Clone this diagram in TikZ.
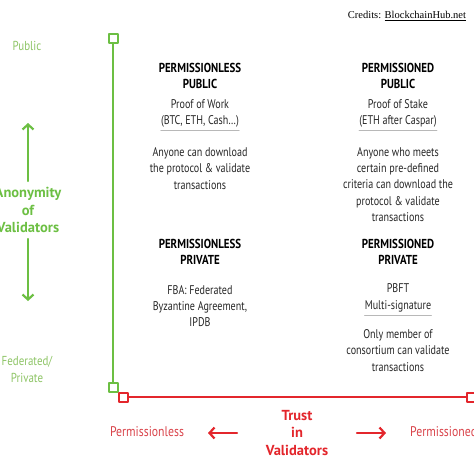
\documentclass[tikz,border=0pt]{standalone}
\usepackage{fontspec}
\setmainfont{PT Sans}[FakeStretch=0.8]
\newfontfamily\headfont{PT Sans}[FakeStretch=0.84]
\newfontfamily\titlefont{PT Sans}
\newfontfamily\credfont{Liberation Serif}
\usetikzlibrary{arrows.meta}
\definecolor{axgreen}{HTML}{6CBF43}
\definecolor{labgreen}{HTML}{8DC465}
\definecolor{axred}{HTML}{E3262C}
\definecolor{labred}{HTML}{D9434A}
\definecolor{ulgray}{HTML}{B8B8B8}
\tikzset{
    head/.style={
        font=\headfont\bfseries\fontsize{13}{16.3}\selectfont, align=center, inner sep=0pt
    },
    body/.style={
        font=\fontsize{12.6}{16.3}\selectfont, align=center, inner sep=0pt, text=black!85
    },
    sidelab/.style={
        font=\headfont\fontsize{13}{17}\selectfont, align=center, inner sep=0pt
    },
    axtitle/.style={
        font=\titlefont\bfseries\fontsize{14.5}{17.5}\selectfont, align=center, inner sep=0pt
    },
    marker/.style={
        fill=white, line width=2pt, minimum size=9pt, inner sep=0pt
    },
    ulline/.style={
        ulgray, line width=0.9pt
    }
}

\begin{document}
\begin{tikzpicture}[x=1pt,y=-1pt, line cap=round, line join=round]
\useasboundingbox (0,0) rectangle (474,474);

\def\xL{200}
\def\xR{398}

% credits
\node[font=\credfont\fontsize{10.5}{12}\selectfont, inner sep=0pt] (credits)
  at (407,16) {Credits: \underline{BlockchainHub.net}};

% axes
\draw[axgreen, line width=2.4pt] (113,38) -- (113,387);
\draw[axred, line width=2.4pt] (123,397) -- (471,397);
\node[marker, draw=axgreen] (gtop) at (113,38) {};
\node[marker, draw=axgreen] (gbot) at (113,387) {};
\node[marker, draw=axred] (rleft) at (123,397) {};
\node[marker, draw=axred] (rright) at (471,397) {};

% vertical axis: anonymity
\node[sidelab, labgreen] (public) at (27,46) {Public};
\node[sidelab, labgreen] (fedpriv) at (27,369) {Federated/\\Private};
\node[axtitle, axgreen, inner ysep=6pt] (anon) at (28,210) {Anonymity\\of\\Validators};
\coordinate (gup) at (28,123);
\coordinate (gdown) at (28,301);
\draw[axgreen, line width=2.2pt, -{Straight Barb[length=5pt,width=11pt]}] (anon.north) -- (gup);
\draw[axgreen, line width=2.2pt, -{Straight Barb[length=5pt,width=11pt]}] (anon.south) -- (gdown);

% horizontal axis: trust
\node[font=\headfont\fontsize{14}{17}\selectfont, labred, inner sep=0pt] (pless) at (147,432) {Permissionless};
\node[font=\headfont\fontsize{14}{17}\selectfont, labred, inner sep=0pt, anchor=west] (pned) at (410,432) {Permissioned};
\node[axtitle, axred] (trust) at (297,433) {Trust\\in\\Validators};
\coordinate (lstart) at (237,433);
\coordinate (lend) at (208,433);
\coordinate (rstart) at (357,433);
\coordinate (rend) at (386,433);
\draw[axred, line width=2.2pt, -{Straight Barb[length=5pt,width=11pt]}] (lstart) -- (lend);
\draw[axred, line width=2.2pt, -{Straight Barb[length=5pt,width=11pt]}] (rstart) -- (rend);

% permissionless / public
\node[head] (plpubh) at (\xL,76) {PERMISSIONLESS\\PUBLIC};
\node[body] (pow) at (\xL,113.5) {Proof of Work\\(BTC, ETH, Cash\dots)};
\node[body] (plpubt) at (\xL,168.5) {Anyone can download\\the protocol \& validate\\transactions};
\draw[ulline] ([yshift=-3pt]pow.south west) -- ([yshift=-3pt]pow.south east);

% permissioned / public
\node[head] (pdpubh) at (\xR,76) {PERMISSIONED\\PUBLIC};
\node[body] (pos) at (\xR,113.5) {Proof of Stake\\(ETH after Caspar)};
\node[body] (pdpubt) at (\xR,184.5) {Anyone who meets\\certain pre-defined\\criteria can download the\\protocol \& validate\\transactions};
\draw[ulline] ([yshift=-3pt]pos.south west) -- ([yshift=-3pt]pos.south east);

% permissionless / private
\node[head] (plprih) at (\xL,252) {PERMISSIONLESS\\PRIVATE};
\node[body] (fba) at (\xL,306) {FBA: Federated\\Byzantine Agreement,\\IPDB};

% permissioned / private
\node[head] (pdprih) at (\xR,252) {PERMISSIONED\\PRIVATE};
\node[body] (pbft) at (\xR,298) {PBFT\\Multi-signature};
\node[body] (pdprit) at (\xR,350.5) {Only member of\\consortium can validate\\transactions};
\draw[ulline] ([yshift=-3pt]pbft.south west) -- ([yshift=-3pt]pbft.south east);

\end{tikzpicture}
\end{document}
